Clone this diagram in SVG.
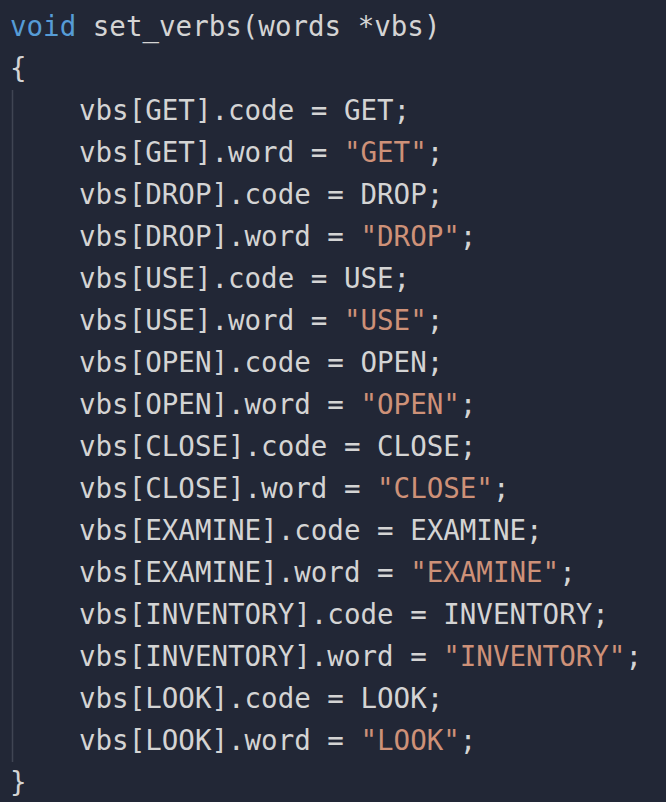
<svg xmlns="http://www.w3.org/2000/svg" width="666" height="802" viewBox="0 0 666 802">
<style>
text{font-family:"DejaVu Sans Mono","Liberation Mono",monospace;font-size:27.5px;fill:#d4d4d4;white-space:pre}
.k{fill:#569cd6}.s{fill:#ce9178}
</style>
<rect width="666" height="802" fill="#222736"/>
<line x1="12.5" y1="90" x2="12.5" y2="762" stroke="#404553" stroke-width="1.5"/>
<g id="code" xml:space="preserve">
<text x="10" y="36"><tspan class="k">void</tspan> set_verbs(words *vbs)</text>
<text x="10" y="78">{</text>
<text x="79" y="120">vbs[GET].code = GET;</text>
<text x="79" y="162">vbs[GET].word = <tspan class="s">"GET"</tspan>;</text>
<text x="79" y="204">vbs[DROP].code = DROP;</text>
<text x="79" y="246">vbs[DROP].word = <tspan class="s">"DROP"</tspan>;</text>
<text x="79" y="288">vbs[USE].code = USE;</text>
<text x="79" y="330">vbs[USE].word = <tspan class="s">"USE"</tspan>;</text>
<text x="79" y="372">vbs[OPEN].code = OPEN;</text>
<text x="79" y="414">vbs[OPEN].word = <tspan class="s">"OPEN"</tspan>;</text>
<text x="79" y="456">vbs[CLOSE].code = CLOSE;</text>
<text x="79" y="498">vbs[CLOSE].word = <tspan class="s">"CLOSE"</tspan>;</text>
<text x="79" y="540">vbs[EXAMINE].code = EXAMINE;</text>
<text x="79" y="582">vbs[EXAMINE].word = <tspan class="s">"EXAMINE"</tspan>;</text>
<text x="79" y="624">vbs[INVENTORY].code = INVENTORY;</text>
<text x="79" y="666">vbs[INVENTORY].word = <tspan class="s">"INVENTORY"</tspan>;</text>
<text x="79" y="708">vbs[LOOK].code = LOOK;</text>
<text x="79" y="750">vbs[LOOK].word = <tspan class="s">"LOOK"</tspan>;</text>
<text x="10" y="792">}</text>
</g>
</svg>
